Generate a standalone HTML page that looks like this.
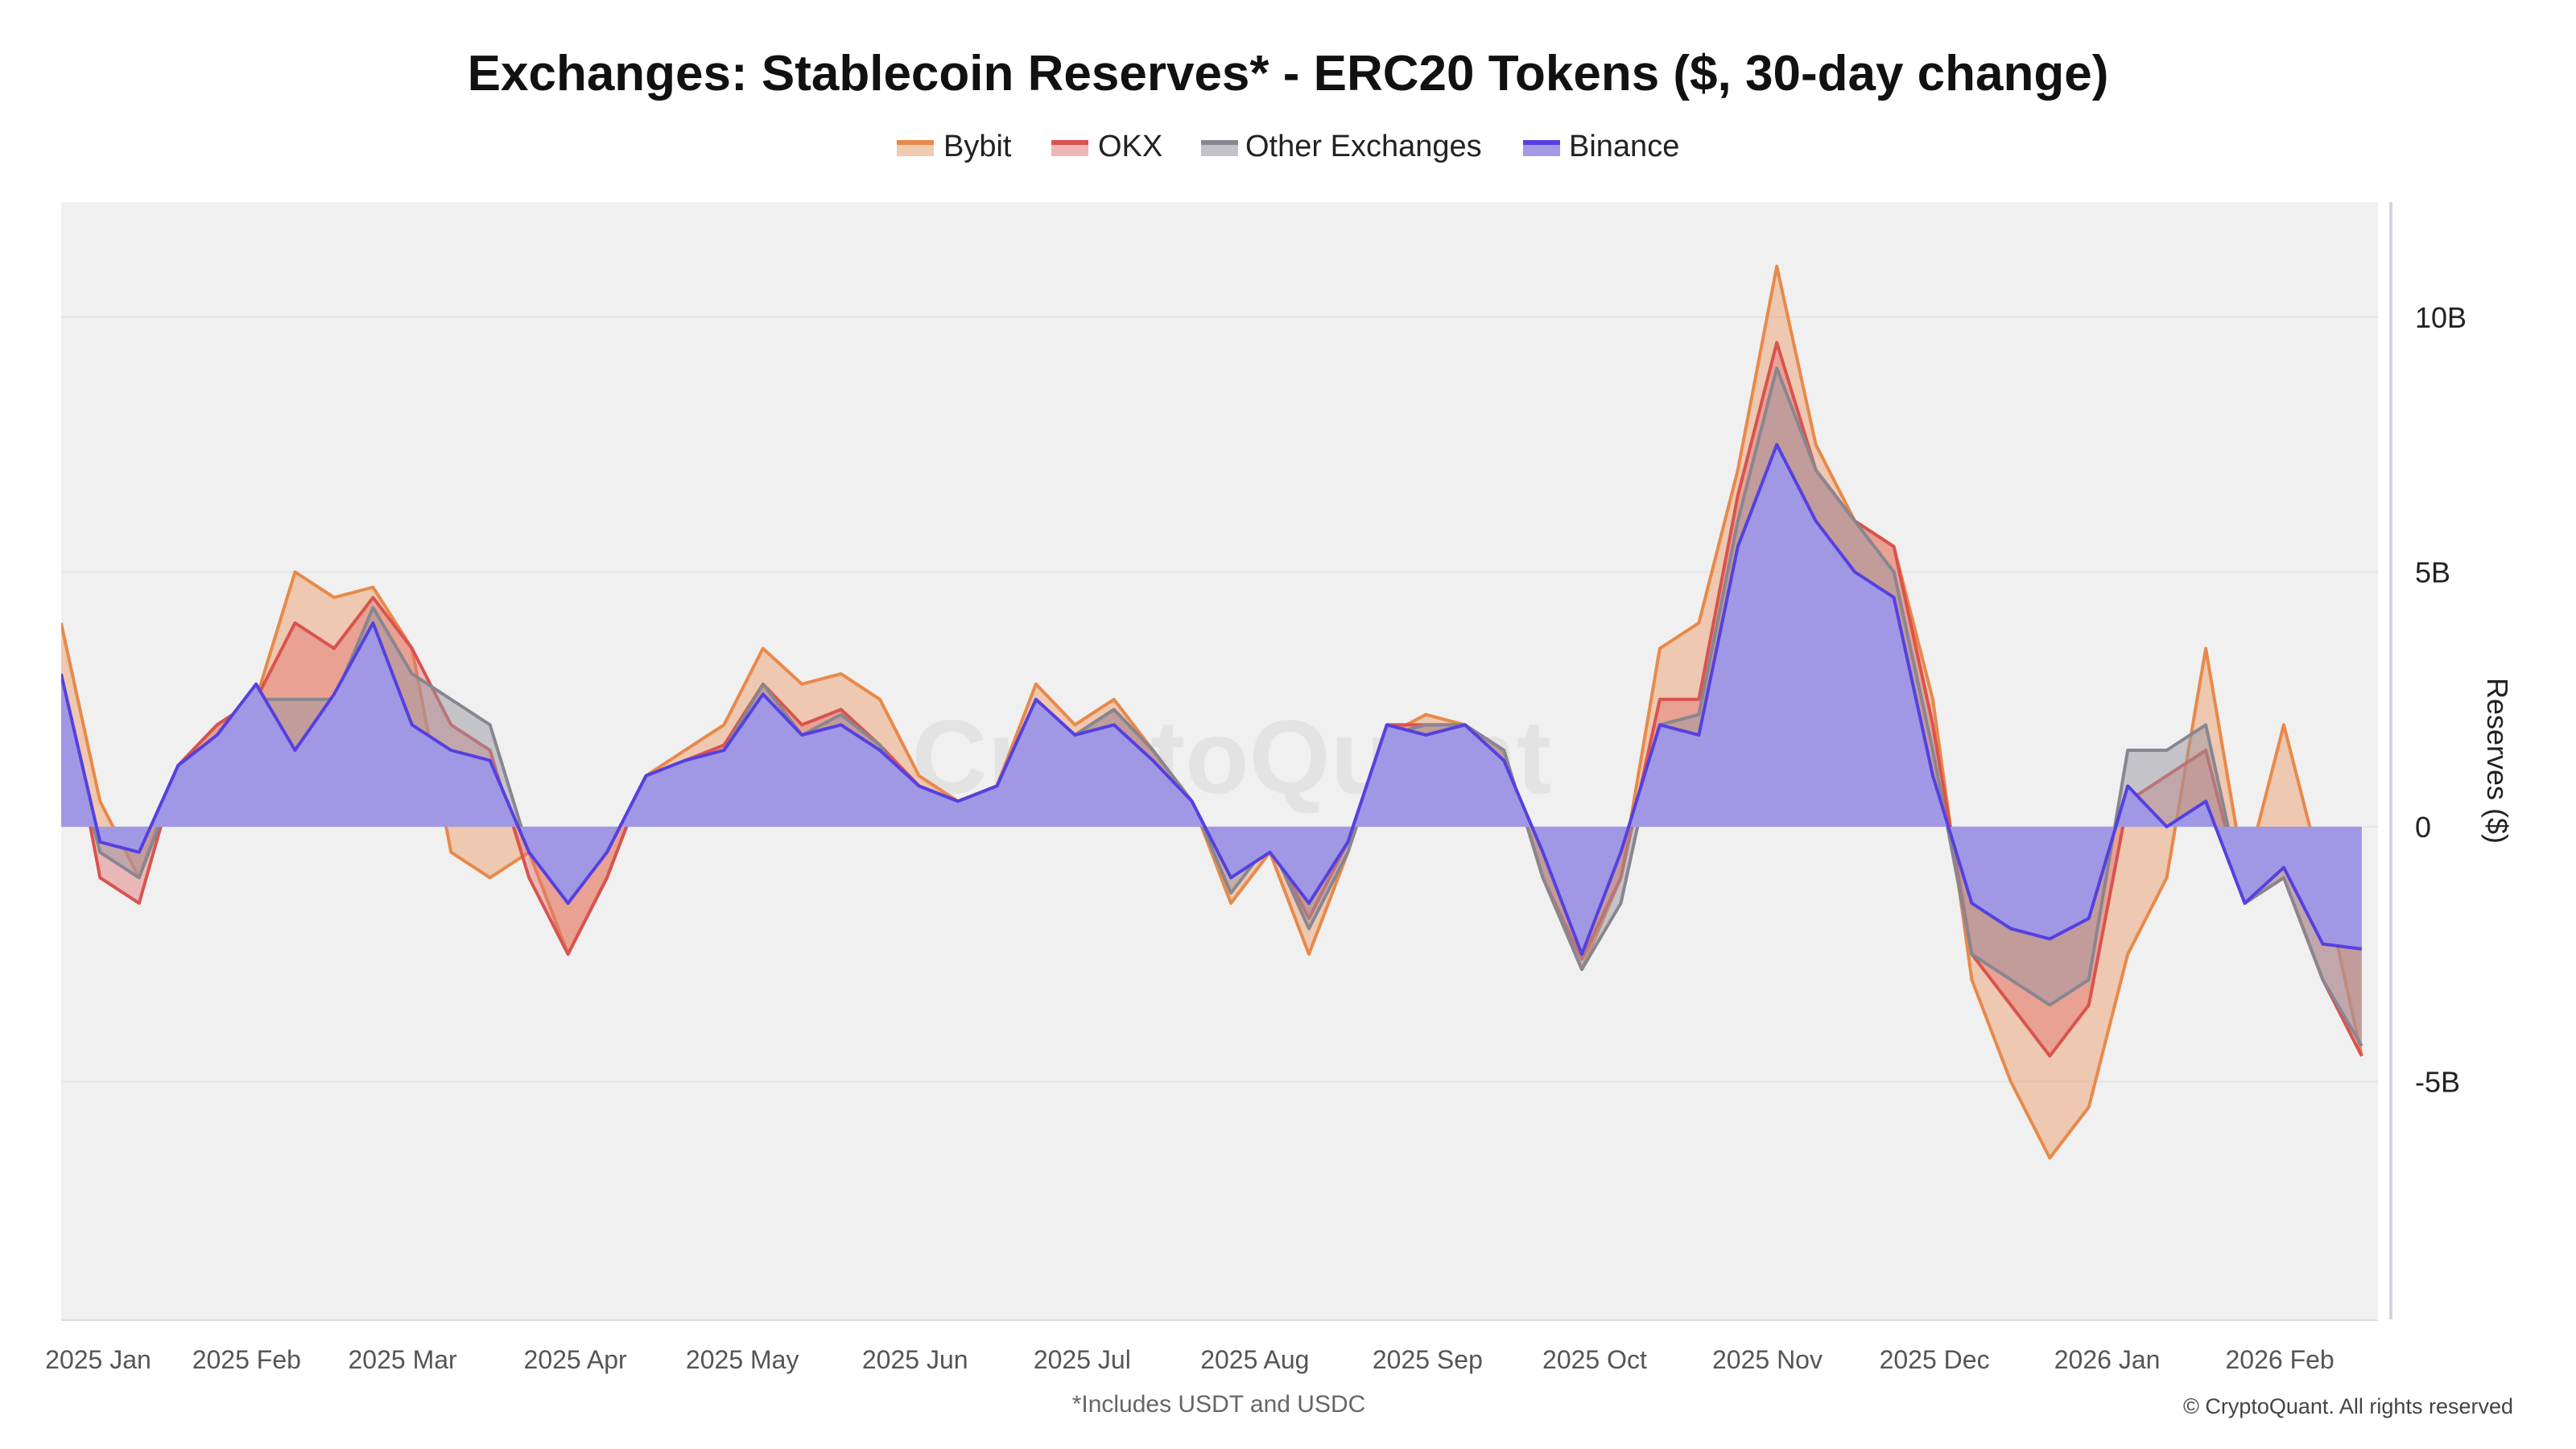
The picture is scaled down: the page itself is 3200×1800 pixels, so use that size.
<!DOCTYPE html>
<html><head><meta charset="utf-8"><style>
html,body{margin:0;padding:0;background:#fff;}
svg{display:block;font-family:"Liberation Sans",sans-serif;}
</style></head><body>
<svg id="chart" width="3200" height="1800" viewBox="0 0 3200 1800" xmlns="http://www.w3.org/2000/svg">
<text x="1600" y="112" text-anchor="middle" font-size="62" font-weight="bold" fill="#111">Exchanges: Stablecoin Reserves* - ERC20 Tokens ($, 30-day change)</text>
<g font-size="38" fill="#222">
 <g><rect x="1114" y="174" width="46" height="20" fill="#f0cbb0"/><rect x="1114" y="174" width="46" height="6" fill="#e8894a"/><text x="1172" y="194">Bybit</text></g>
 <g><rect x="1306" y="174" width="46" height="20" fill="#f0b5b5"/><rect x="1306" y="174" width="46" height="6" fill="#d9534f"/><text x="1364" y="194">OKX</text></g>
 <g><rect x="1492" y="174" width="46" height="20" fill="#c3c2c8"/><rect x="1492" y="174" width="46" height="6" fill="#888690"/><text x="1547" y="194">Other Exchanges</text></g>
 <g><rect x="1892" y="174" width="46" height="20" fill="#a39be6"/><rect x="1892" y="174" width="46" height="6" fill="#5540e0"/><text x="1949" y="194">Binance</text></g>
</g>
<rect x="76" y="251" width="2878" height="1388" fill="#f0f0f0"/>
<g id="grid"></g>
<text x="1530" y="985" text-anchor="middle" font-size="130" font-weight="bold" fill="#000" fill-opacity="0.05">CryptoQuant</text>
<defs><clipPath id="clip"><rect x="76" y="251" width="2878" height="1388"/></clipPath></defs>
<g id="series" clip-path="url(#clip)"></g>
<line x1="2970" y1="251" x2="2970" y2="1639" stroke="#d5d3de" stroke-width="4"/>
<line x1="76" y1="1640" x2="2954" y2="1640" stroke="#dddce4" stroke-width="2"/>
<g id="yticks"></g>
<g id="xticks"></g>
<text transform="translate(3090,945) rotate(90)" text-anchor="middle" font-size="36" fill="#222">Reserves ($)</text>
<text x="1514" y="1754" text-anchor="middle" font-size="30" fill="#666">*Includes USDT and USDC</text>
<text x="3122" y="1756" text-anchor="end" font-size="27" fill="#444">© CryptoQuant. All rights reserved</text>
</svg>
<script>
// weekly sample days (day 0 = 2025-01-01)
const days = Array.from({length:60},(_,k)=>k*7);
const bybit = [4.0,0.5,-1.0,1.2,2.0,2.5,5.0,4.5,4.7,3.5,-0.5,-1.0,-0.5,-2.5,-1.0,1.0,1.5,2.0,3.5,2.8,3.0,2.5,1.0,0.5,0.8,2.8,2.0,2.5,1.5,0.5,-1.5,-0.5,-2.5,-0.5,1.8,2.2,2.0,1.5,-1.0,-2.8,-1.0,3.5,4.0,7.0,11.0,7.5,6.0,5.5,2.5,-3.0,-5.0,-6.5,-5.5,-2.5,-1.0,3.5,-1.0,2.0,-1.0,-4.5];
const okx = [3.0,-1.0,-1.5,1.2,2.0,2.5,4.0,3.5,4.5,3.5,2.0,1.5,-1.0,-2.5,-1.0,1.0,1.3,1.6,2.8,2.0,2.3,1.6,0.8,0.5,0.6,2.5,1.8,2.3,1.5,0.5,-1.0,-0.3,-1.8,-0.3,2.0,2.0,2.0,1.5,-1.0,-2.6,-1.0,2.5,2.5,6.5,9.5,7.0,6.0,5.5,2.0,-2.5,-3.5,-4.5,-3.5,0.5,1.0,1.5,-1.5,-1.0,-3.0,-4.5];
const other = [2.5,-0.5,-1.0,1.0,1.8,2.5,2.5,2.5,4.3,3.0,2.5,2.0,-0.5,-1.2,-0.5,1.0,1.3,1.5,2.8,1.8,2.2,1.6,0.5,0.5,0.6,2.5,1.8,2.3,1.5,0.5,-1.3,-0.3,-2.0,-0.5,1.8,2.0,2.0,1.5,-1.0,-2.8,-1.5,2.0,2.2,6.0,9.0,7.0,6.0,5.0,1.5,-2.5,-3.0,-3.5,-3.0,1.5,1.5,2.0,-1.5,-1.0,-3.0,-4.3];
const binance = [3.0,-0.3,-0.5,1.2,1.8,2.8,1.5,2.6,4.0,2.0,1.5,1.3,-0.5,-1.5,-0.5,1.0,1.3,1.5,2.6,1.8,2.0,1.5,0.8,0.5,0.8,2.5,1.8,2.0,1.3,0.5,-1.0,-0.5,-1.5,-0.3,2.0,1.8,2.0,1.3,-0.5,-2.5,-0.5,2.0,1.8,5.5,7.5,6.0,5.0,4.5,1.0,-1.5,-2.0,-2.2,-1.8,0.8,0.0,0.5,-1.5,-0.8,-2.3,-2.4];
const yTicks = [-5,0,5,10];
const yTickLabels = ["-5B","0","5B","10B"];
const monthDays = [0,31,59,90,120,151,181,212,243,273,304,334,365,396];
const monthLabels = ["2025 Jan","2025 Feb","2025 Mar","2025 Apr","2025 May","2025 Jun","2025 Jul","2025 Aug","2025 Sep","2025 Oct","2025 Nov","2025 Dec","2026 Jan","2026 Feb"];

const NS="http://www.w3.org/2000/svg";
const X=d=>91.8+6.92*d;
const Y=v=>1027-63.3*v;
function mk(tag,attrs,parent){const e=document.createElementNS(NS,tag);for(const k in attrs)e.setAttribute(k,attrs[k]);parent.appendChild(e);return e;}
const grid=document.getElementById('grid'),yt=document.getElementById('yticks'),xt=document.getElementById('xticks'),sg=document.getElementById('series');
yTicks.forEach((v,i)=>{
  const l=mk('line',{x1:76,x2:2954,y1:Y(v),y2:Y(v),stroke:'#e4e3ea','stroke-width':2},grid);
  
  
  const t=mk('text',{x:3000,y:Y(v)+13,'font-size':36,fill:'#222'},yt);
  t.textContent=yTickLabels[i];
  
  
});
monthDays.forEach((d,i)=>{
  let x=X(d); if(i===0) x=122;
  const t=mk('text',{x:x,y:1700,'text-anchor':'middle','font-size':32,fill:'#555'},xt);
  t.textContent=monthLabels[i];
  
  
});
const startDay=-2.3;
function drawSeries(vals,name,fill,stroke,op){
  const pts=vals.map((v,i)=>[X(startDay+days[i]),Y(v)]);
  const line=pts.map(p=>p[0].toFixed(1)+','+p[1].toFixed(1)).join(' L');
  const area=mk('path',{d:'M'+pts[0][0]+','+Y(0)+' L'+line+' L'+pts[pts.length-1][0]+','+Y(0)+' Z',fill:fill,'fill-opacity':op},sg);
  
  
  const ln=mk('path',{d:'M'+line,fill:'none',stroke:stroke,'stroke-width':4,'stroke-linejoin':'round'},sg);
  
  
}
drawSeries(bybit,'bybit','#eca070','#e8894a',0.5);
drawSeries(okx,'okx','#e07070','#d9534f',0.45);
drawSeries(other,'other-exchanges','#9a98a2','#888690',0.5);
drawSeries(binance,'binance','#a098e4','#5540e0',1);
</script>
</body></html>
